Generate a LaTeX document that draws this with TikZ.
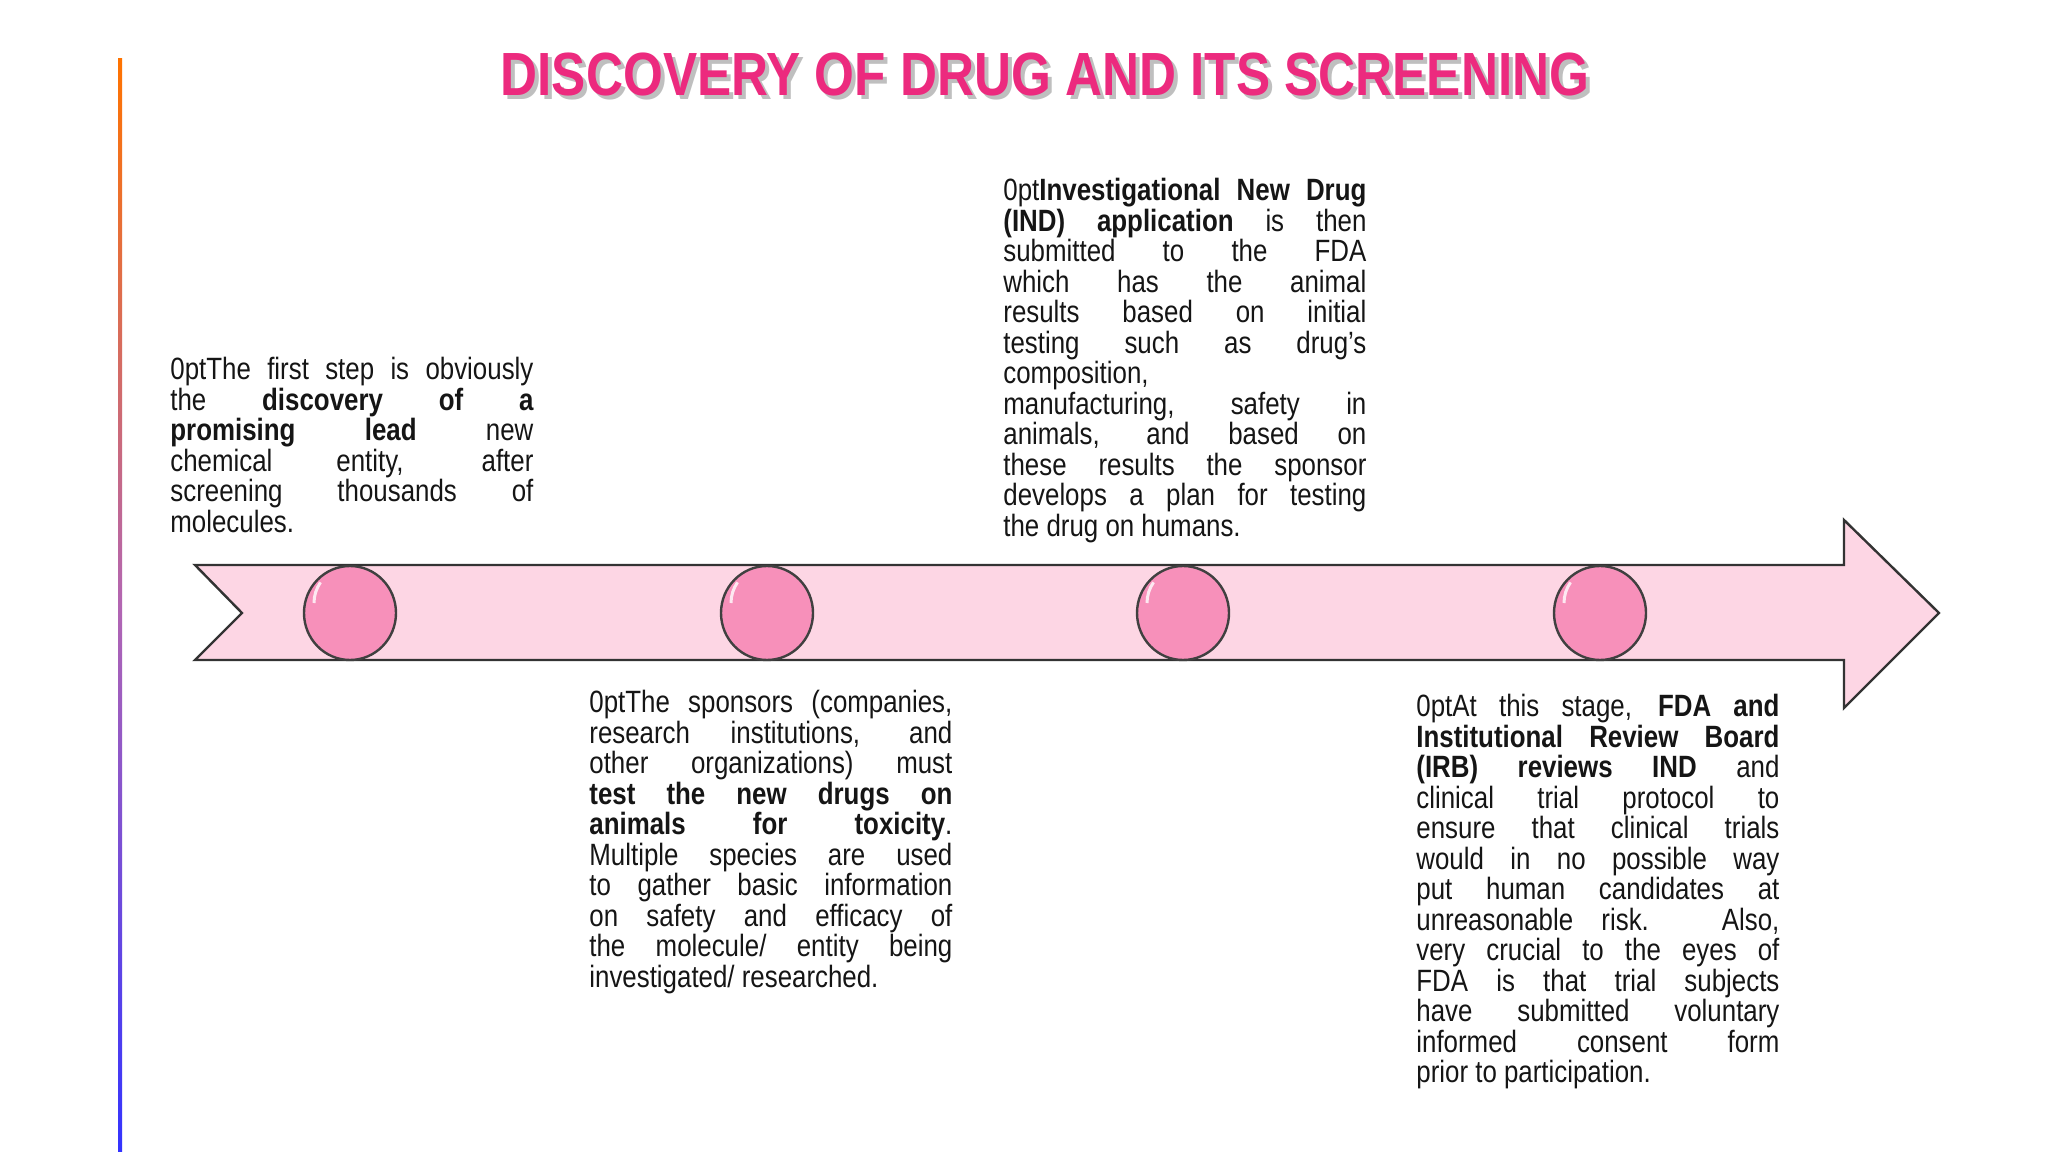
\documentclass[tikz,border=0pt]{standalone}
\usepackage{fontspec}
\setmainfont{Liberation Sans}[FakeStretch=0.84]
\usetikzlibrary{shadows,shapes.geometric}
\definecolor{titlepink}{HTML}{EC2A7E}
\definecolor{arrowfill}{HTML}{FDD6E4}
\definecolor{ballfill}{HTML}{F790BA}
\definecolor{txt}{HTML}{151515}
\tikzset{
  para/.style={anchor=north west, text width=181.5bp, align=justify, inner sep=0pt,
    font=\fontsize{15.4bp}{15.25bp}\selectfont\hyphenpenalty=10000\emergencystretch=20bp, text=txt},
  ball/.style={ellipse, draw=black!75, line width=1.2bp, fill=ballfill, minimum width=46bp, minimum height=47bp, inner sep=0pt}
}
\begin{document}
\begin{tikzpicture}[x=0.5bp,y=-0.5bp]
\useasboundingbox (0,0) rectangle (2048,1152);
\fill[white] (0,0) rectangle (2048,1152);
% left gradient line
\shade[top color=orange!90!red, bottom color=blue!80!white, middle color=violet!60] (118,59) rectangle (122,1152);
% title
\node[text=gray!50, font=\bfseries\fontsize{30.5bp}{32bp}\selectfont] at (1049,79) {DISCOVERY OF DRUG AND ITS SCREENING};
\node (title) [text=titlepink, font=\bfseries\fontsize{30.5bp}{32bp}\selectfont] at (1045,75) {DISCOVERY OF DRUG AND ITS SCREENING};
% arrow
\draw[fill=arrowfill, draw=black!80, line width=1.2bp, line join=miter]
 (195,565) -- (1844,565) -- (1844,520) -- (1939,613) -- (1844,708) -- (1844,660) -- (195,660) -- (242,613) -- cycle;
% balls
\foreach \n/\x in {b1/350,b2/767,b3/1183,b4/1600}{
  \node (\n) [ball] at (\x,613) {};
  \draw[white, line width=1.5bp, opacity=0.8] (\x,613) ++(-36,-10) arc (180:215:36);
}
% texts
\node (t1) [para] at (170,357) {The first step is obviously\linebreak the \textbf{discovery of a\linebreak promising lead} new\linebreak chemical entity, after\linebreak screening thousands of\linebreak molecules.};
\node (t2) [para] at (589,690) {The sponsors (companies,\linebreak research institutions, and\linebreak other organizations) must\linebreak \textbf{test the new drugs on\linebreak animals for toxicity}.\linebreak Multiple species are used\linebreak to gather basic information\linebreak on safety and efficacy of\linebreak the molecule/ entity being\linebreak investigated/ researched.};
\node (t3) [para] at (1003,178) {\textbf{Investigational New Drug\linebreak (IND) application} is then\linebreak submitted to the FDA\linebreak which has the animal\linebreak results based on initial\linebreak testing such as drug’s\linebreak composition,\\ manufacturing, safety in\linebreak animals, and based on\linebreak these results the sponsor\linebreak develops a plan for testing\linebreak the drug on humans.};
\node (t4) [para] at (1416,694) {At this stage, \textbf{FDA and\linebreak Institutional Review Board\linebreak (IRB) reviews IND} and\linebreak clinical trial protocol to\linebreak ensure that clinical trials\linebreak would in no possible way\linebreak put human candidates at\linebreak unreasonable risk. Also,\linebreak very crucial to the eyes of\linebreak FDA is that trial subjects\linebreak have submitted voluntary\linebreak informed consent form\linebreak prior to participation.};
\end{tikzpicture}
\end{document}
